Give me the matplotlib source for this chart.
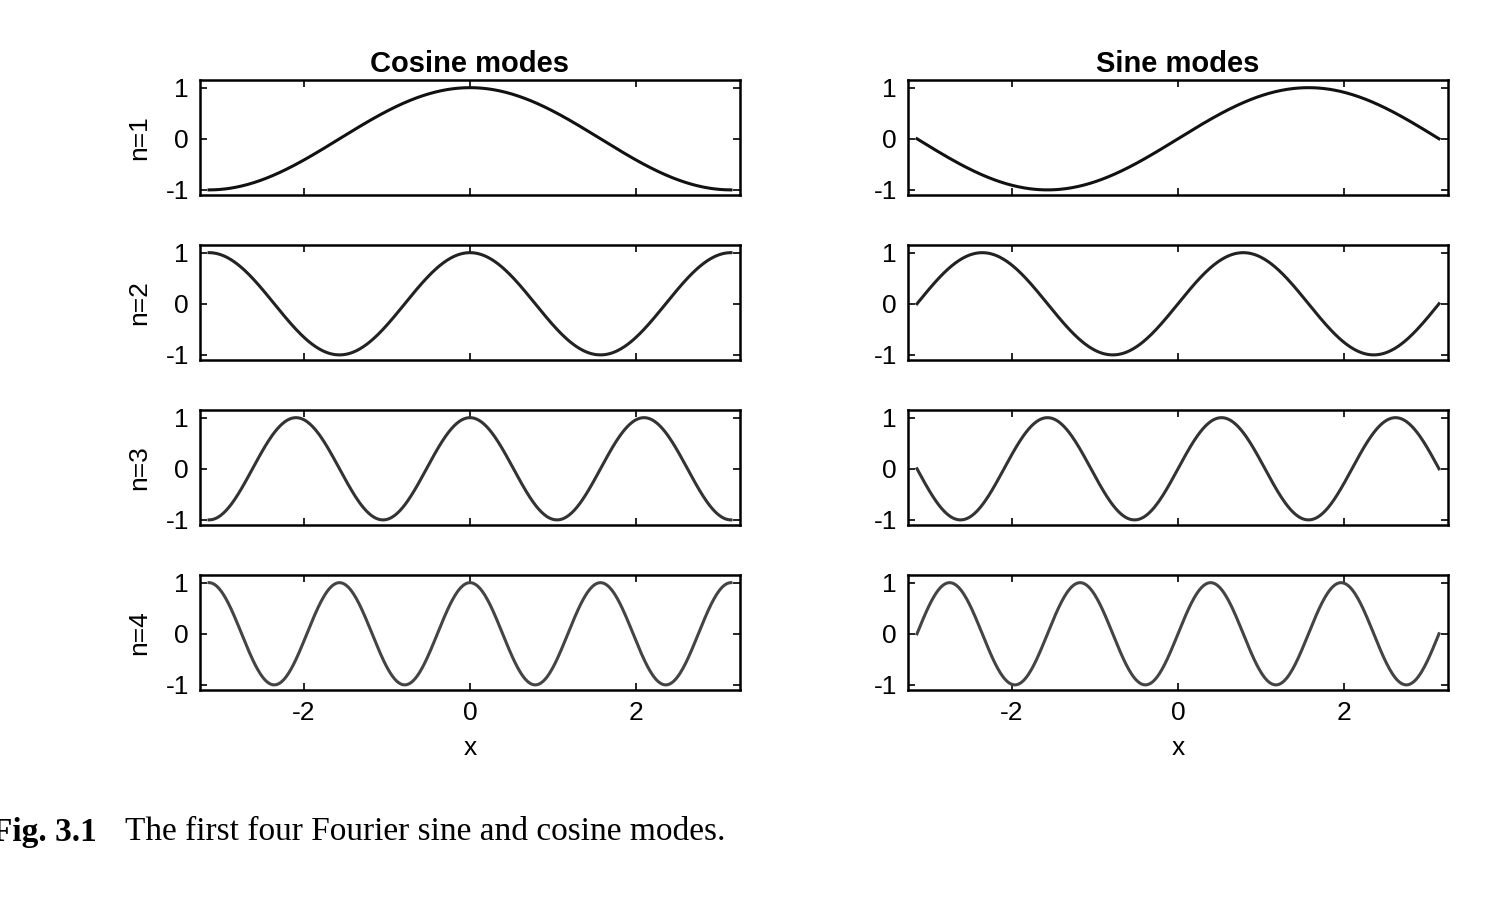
import numpy as np
import matplotlib.pyplot as plt

plt.rcParams['font.family'] = ['Liberation Sans', 'DejaVu Sans']
plt.rcParams['axes.unicode_minus'] = False

modes = [1, 2, 3, 4]
line_colors = ['#111111', '#222222', '#333333', '#444444']
titles = ['Cosine modes', 'Sine modes']
x_ticks = [-2, 0, 2]
y_ticks = [-1, 0, 1]

x = np.linspace(-np.pi, np.pi, 600)

W, H = 1505, 908
fig = plt.figure(figsize=(W / 100, H / 100), dpi=100)

lefts = [200, 908]
tops = [80, 245, 410, 575]
aw, ah = 540, 115

for col in range(2):
    for row, n in enumerate(modes):
        ax = fig.add_axes([lefts[col] / W, 1 - (tops[row] + ah) / H, aw / W, ah / H])
        y = np.cos(n * x) if col == 0 else np.sin(n * x)
        ax.plot(x, y, color=line_colors[row], lw=2.2)
        ax.set_xlim(-3.25, 3.25)
        ax.set_ylim(-1.1, 1.15)
        ax.set_xticks(x_ticks)
        ax.set_yticks(y_ticks)
        ax.tick_params(direction='in', top=True, right=True, length=5, width=1.2,
                       labelsize=19, pad=8)
        for s in ax.spines.values():
            s.set_linewidth(1.8)
        if row < 3:
            ax.set_xticklabels([])
        else:
            ax.set_xlabel('x', fontsize=19, labelpad=8)
        if col == 0:
            ax.set_ylabel(f'n={n}', fontsize=19, labelpad=10)
        if row == 0:
            ax.set_title(titles[col], fontsize=21, fontweight='bold', pad=6)

fig.text(-8 / W, 1 - 832 / H, 'Fig. 3.1', fontsize=24, fontweight='bold',
         family='Liberation Serif', va='center')
fig.text(125 / W, 1 - 832 / H, 'The first four Fourier sine and cosine modes.',
         fontsize=24, family='Liberation Serif', va='center')

fig.savefig('out.png', dpi=100)
